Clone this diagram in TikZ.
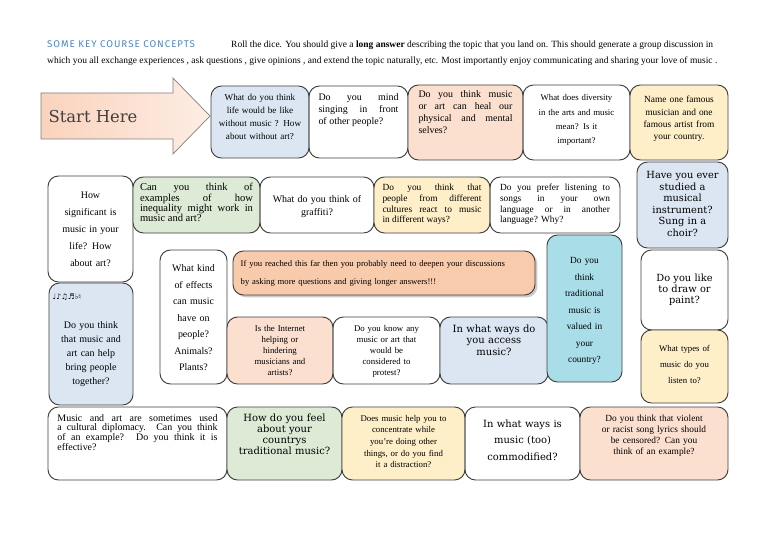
\documentclass[tikz,border=0pt]{standalone}
\usepackage{fontspec}
\setmainfont{Liberation Serif}
\newfontfamily\slabfont{DejaVu Serif}
\newfontfamily\glyphfont{DejaVu Sans}
\newfontfamily\titlefont[LetterSpace=10]{Fira Sans}
\usepackage{xcolor}
\usepackage{tikz}
\usetikzlibrary{shadows}
\definecolor{edge}{HTML}{404040}
\definecolor{skyfill}{HTML}{DCE6F2}
\definecolor{peachfill}{HTML}{FBE0D0}
\definecolor{bannerfill}{HTML}{F8CBAD}
\definecolor{sandfill}{HTML}{FEEFC8}
\definecolor{sagefill}{HTML}{DDEBD6}
\definecolor{tealfill}{HTML}{A9DDE7}
\definecolor{titleblue}{HTML}{4A86C8}
\definecolor{arrowL}{HTML}{FAD3BD}
\definecolor{arrowM}{HTML}{F7B690}
\definecolor{arrowR}{HTML}{FDEDE4}
\newcommand{\fs}[2]{\fontsize{#1}{#2}\selectfont}

\begin{document}
\begin{tikzpicture}[x=0.03cm, y=-0.03cm,
    tile/.style={draw=edge, line width=0.8pt, rounded corners=9pt, inner sep=3pt,
                 text height=0pt, align=center},
    size/.style 2 args={minimum width=#1, minimum height=#2},
    intro/.style={anchor=base west, inner sep=0pt, font=\fs{8.1}{9}}
  ]
    \path[use as bounding box, fill=white] (0,0) rectangle (768,543);

    % heading
    \node[anchor=base west, inner sep=0pt, text=titleblue, font=\titlefont\fs{8.3}{9}] (title) at (47,48)
      {SOME KEY COURSE CONCEPTS};
    \node[intro] (intro1) at (231,48)
      {Roll the dice. You should give a \textbf{long answer} describing the topic that you land on. This should generate a group discussion in};
    \node[intro] (intro2) at (47,64)
      {which you all exchange experiences , ask questions , give opinions , and extend the topic naturally, etc. Most importantly enjoy communicating and sharing your love of music .};

    % start arrow
    \path[draw=gray, line width=0.6pt, left color=arrowL, middle color=arrowM, right color=arrowR]
      (41,93) -- (173,93) -- (173,78) -- (210,116) -- (173,154) -- (173,139) -- (41,139) -- cycle;
    \node[font=\slabfont\fs{14}{16}, text=edge] (start) at (93,117) {Start Here};

    % top row
    \node[tile, size={2.94cm}{2.16cm}, text width=2.6cm, text depth=1.26cm, fill=skyfill, font=\fs{7.8}{11}] (life) at (260,122)
      {What do you think\\ life would be like\\ without music ? How\\ about without art?};
    \node[tile, size={2.97cm}{2.16cm}, text width=2.4cm, text depth=1.26cm, align=justify, font=\fs{8.5}{10.2}] (sing) at (358.5,122)
      {Do you mind\linebreak singing in front\linebreak of other people?};
    \node[tile, size={3.45cm}{2.25cm}, text width=2.82cm, text depth=1.47cm, align=justify, fill=peachfill, font=\fs{8.5}{10.2}] (heal) at (465.5,122.5)
      {Do you think music\linebreak or art can heal our\linebreak physical and mental\linebreak selves?};
    \node[tile, size={3.21cm}{2.25cm}, text width=2.9cm, text depth=1.29cm, font=\fs{7.5}{12}] (diversity) at (576.5,122.5)
      {What does diversity\\ in the arts and music\\ mean? Is it\\ important?};
    \node[tile, size={2.94cm}{2.25cm}, text width=2.6cm, text depth=1.17cm, fill=sandfill, font=\fs{8}{10.5}] (famous) at (679,122.5)
      {Name one famous\\ musician and one\\ famous artist from\\ your country.};

    % right column
    \node[tile, size={2.73cm}{2.58cm}, text width=2.5cm, text depth=1.56cm, fill=skyfill, font=\slabfont\fs{8.4}{9.8}] (studied) at (682.5,205)
      {Have you ever\\ studied a\\ musical\\ instrument?\\ Sung in a\\ choir?};
    \node[tile, size={2.61cm}{2.4cm}, text width=2.4cm, text depth=0.54cm, font=\slabfont\fs{8.4}{9.5}] (drawpaint) at (684.5,290)
      {Do you like\\ to draw or\\ paint?};
    \node[tile, size={2.61cm}{2.19cm}, text width=2.3cm, text depth=0.93cm, fill=sandfill, font=\fs{7.5}{14}] (types) at (684.5,366.5)
      {What types of\\ music do you\\ listen to?};

    % second row
    \node[tile, size={2.55cm}{3.18cm}, text width=2.3cm, text depth=1.8cm, font=\fs{8.5}{14.5}] (significant) at (90.5,229)
      {How\\ significant is\\ music in your\\ life? How\\ about art?};
    \node[tile, size={3.81cm}{1.68cm}, text width=3.39cm, text depth=0.84cm, align=justify, fill=sagefill, font=\fs{9}{8.2}] (inequality) at (196.5,205)
      {Can you think of\linebreak examples of how\linebreak inequality might work in\linebreak music and art?};
    \node[tile, size={3.42cm}{1.68cm}, text width=3.1cm, text depth=0.12cm, font=\fs{8.5}{11}] (graffiti) at (317,205)
      {What do you think of\\ graffiti?};
    \node[tile, size={3.48cm}{1.68cm}, text width=2.97cm, text depth=0.84cm, align=justify, fill=sandfill, font=\fs{8}{9}] (cultures) at (432,205)
      {Do you think that\linebreak people from different\linebreak cultures react to music\linebreak in different ways?};
    \node[tile, size={3.9cm}{1.68cm}, text width=3.3cm, text depth=0.84cm, align=justify, font=\fs{8}{9}] (prefer) at (555,205)
      {Do you prefer listening to\linebreak songs in your own\linebreak language or in another\linebreak language? Why?};

    % middle
    \node[tile, size={2.52cm}{3.66cm}, text width=2.3cm, text depth=2.64cm, fill=skyfill, font=\fs{8.5}{12}] (together) at (91,344)
      {\makebox[\linewidth][l]{\glyphfont\fs{6.5}{7}♩♪♫♬♭♮}\\[12pt]
       Do you think\\ that music and\\ art can help\\ bring people\\ together?};
    \node[tile, size={2.01cm}{4.02cm}, text width=1.8cm, text depth=2.7cm, font=\fs{8.5}{14}] (effects) at (193.5,317)
      {What kind\\ of effects\\ can music\\ have on\\ people?\\ Animals?\\ Plants?};
    \node[tile, size={9.06cm}{1.32cm}, text width=8.6cm, text depth=0.42cm, align=left, fill=bannerfill, font=\fs{7.4}{16},
          drop shadow={shadow xshift=2pt, shadow yshift=-2pt, fill=black!40}] (banner) at (384,273)
      {If you reached this far then you probably need to deepen your discussions\\ by asking more questions and giving longer answers!!!};
    \node[tile, size={3.18cm}{2.01cm}, text width=2.9cm, text depth=1.17cm, fill=peachfill, font=\fs{7.5}{9.5}] (internet) at (280,350.5)
      {Is the Internet\\ helping or\\ hindering\\ musicians and\\ artists?};
    \node[tile, size={3.21cm}{2.01cm}, text width=2.9cm, text depth=1.17cm, font=\fs{7.5}{9.5}] (protest) at (386.5,350.5)
      {Do you know any\\ music or art that\\ would be\\ considered to\\ protest?};
    \node[tile, size={3.24cm}{2.01cm}, text width=2.9cm, text depth=1.11cm, fill=skyfill, font=\slabfont\fs{8.5}{10}] (access) at (494,350.5)
      {In what ways do\\ you access\\ music?};
    \node[tile, size={2.25cm}{4.41cm}, text width=2.0cm, text depth=2.67cm, fill=tealfill, font=\fs{8}{14}] (traditional) at (584.5,308.5)
      {Do you\\ think\\ traditional\\ music is\\ valued in\\ your\\ country?};

    % bottom row
    \node[tile, size={5.37cm}{2.19cm}, text width=4.8cm, text depth=1.35cm, align=justify, font=\fs{8.5}{8.5}] (diplomacy) at (137.5,443.5)
      {Music and art are sometimes used\linebreak a cultural diplomacy. Can you think\linebreak of an example? Do you think it is\linebreak effective?};
    \node[tile, size={3.45cm}{2.19cm}, text width=3.2cm, text depth=1.35cm, fill=sagefill, font=\slabfont\fs{8.5}{9.5}] (feel) at (284.5,443.5)
      {How do you feel\\ about your\\ countrys\\ traditional music?};
    \node[tile, size={3.69cm}{2.19cm}, text width=3.4cm, text depth=1.35cm, fill=sandfill, font=\fs{7.5}{10}] (concentrate) at (403.5,443.5)
      {Does music help you to\\ concentrate while\\ you're doing other\\ things, or do you find\\ it a distraction?};
    \node[tile, size={3.45cm}{2.19cm}, text width=3.2cm, text depth=0.99cm, font=\slabfont\fs{8.5}{14.5}] (commodified) at (522.5,443.5)
      {In what ways is\\ music (too)\\ commodified?};
    \node[tile, size={4.44cm}{2.19cm}, text width=4.1cm, text depth=1.35cm, fill=peachfill, font=\fs{8}{9.5}] (violent) at (654,443.5)
      {Do you think that violent\\ or racist song lyrics should\\ be censored? Can you\\ think of an example?};
\end{tikzpicture}
\end{document}
